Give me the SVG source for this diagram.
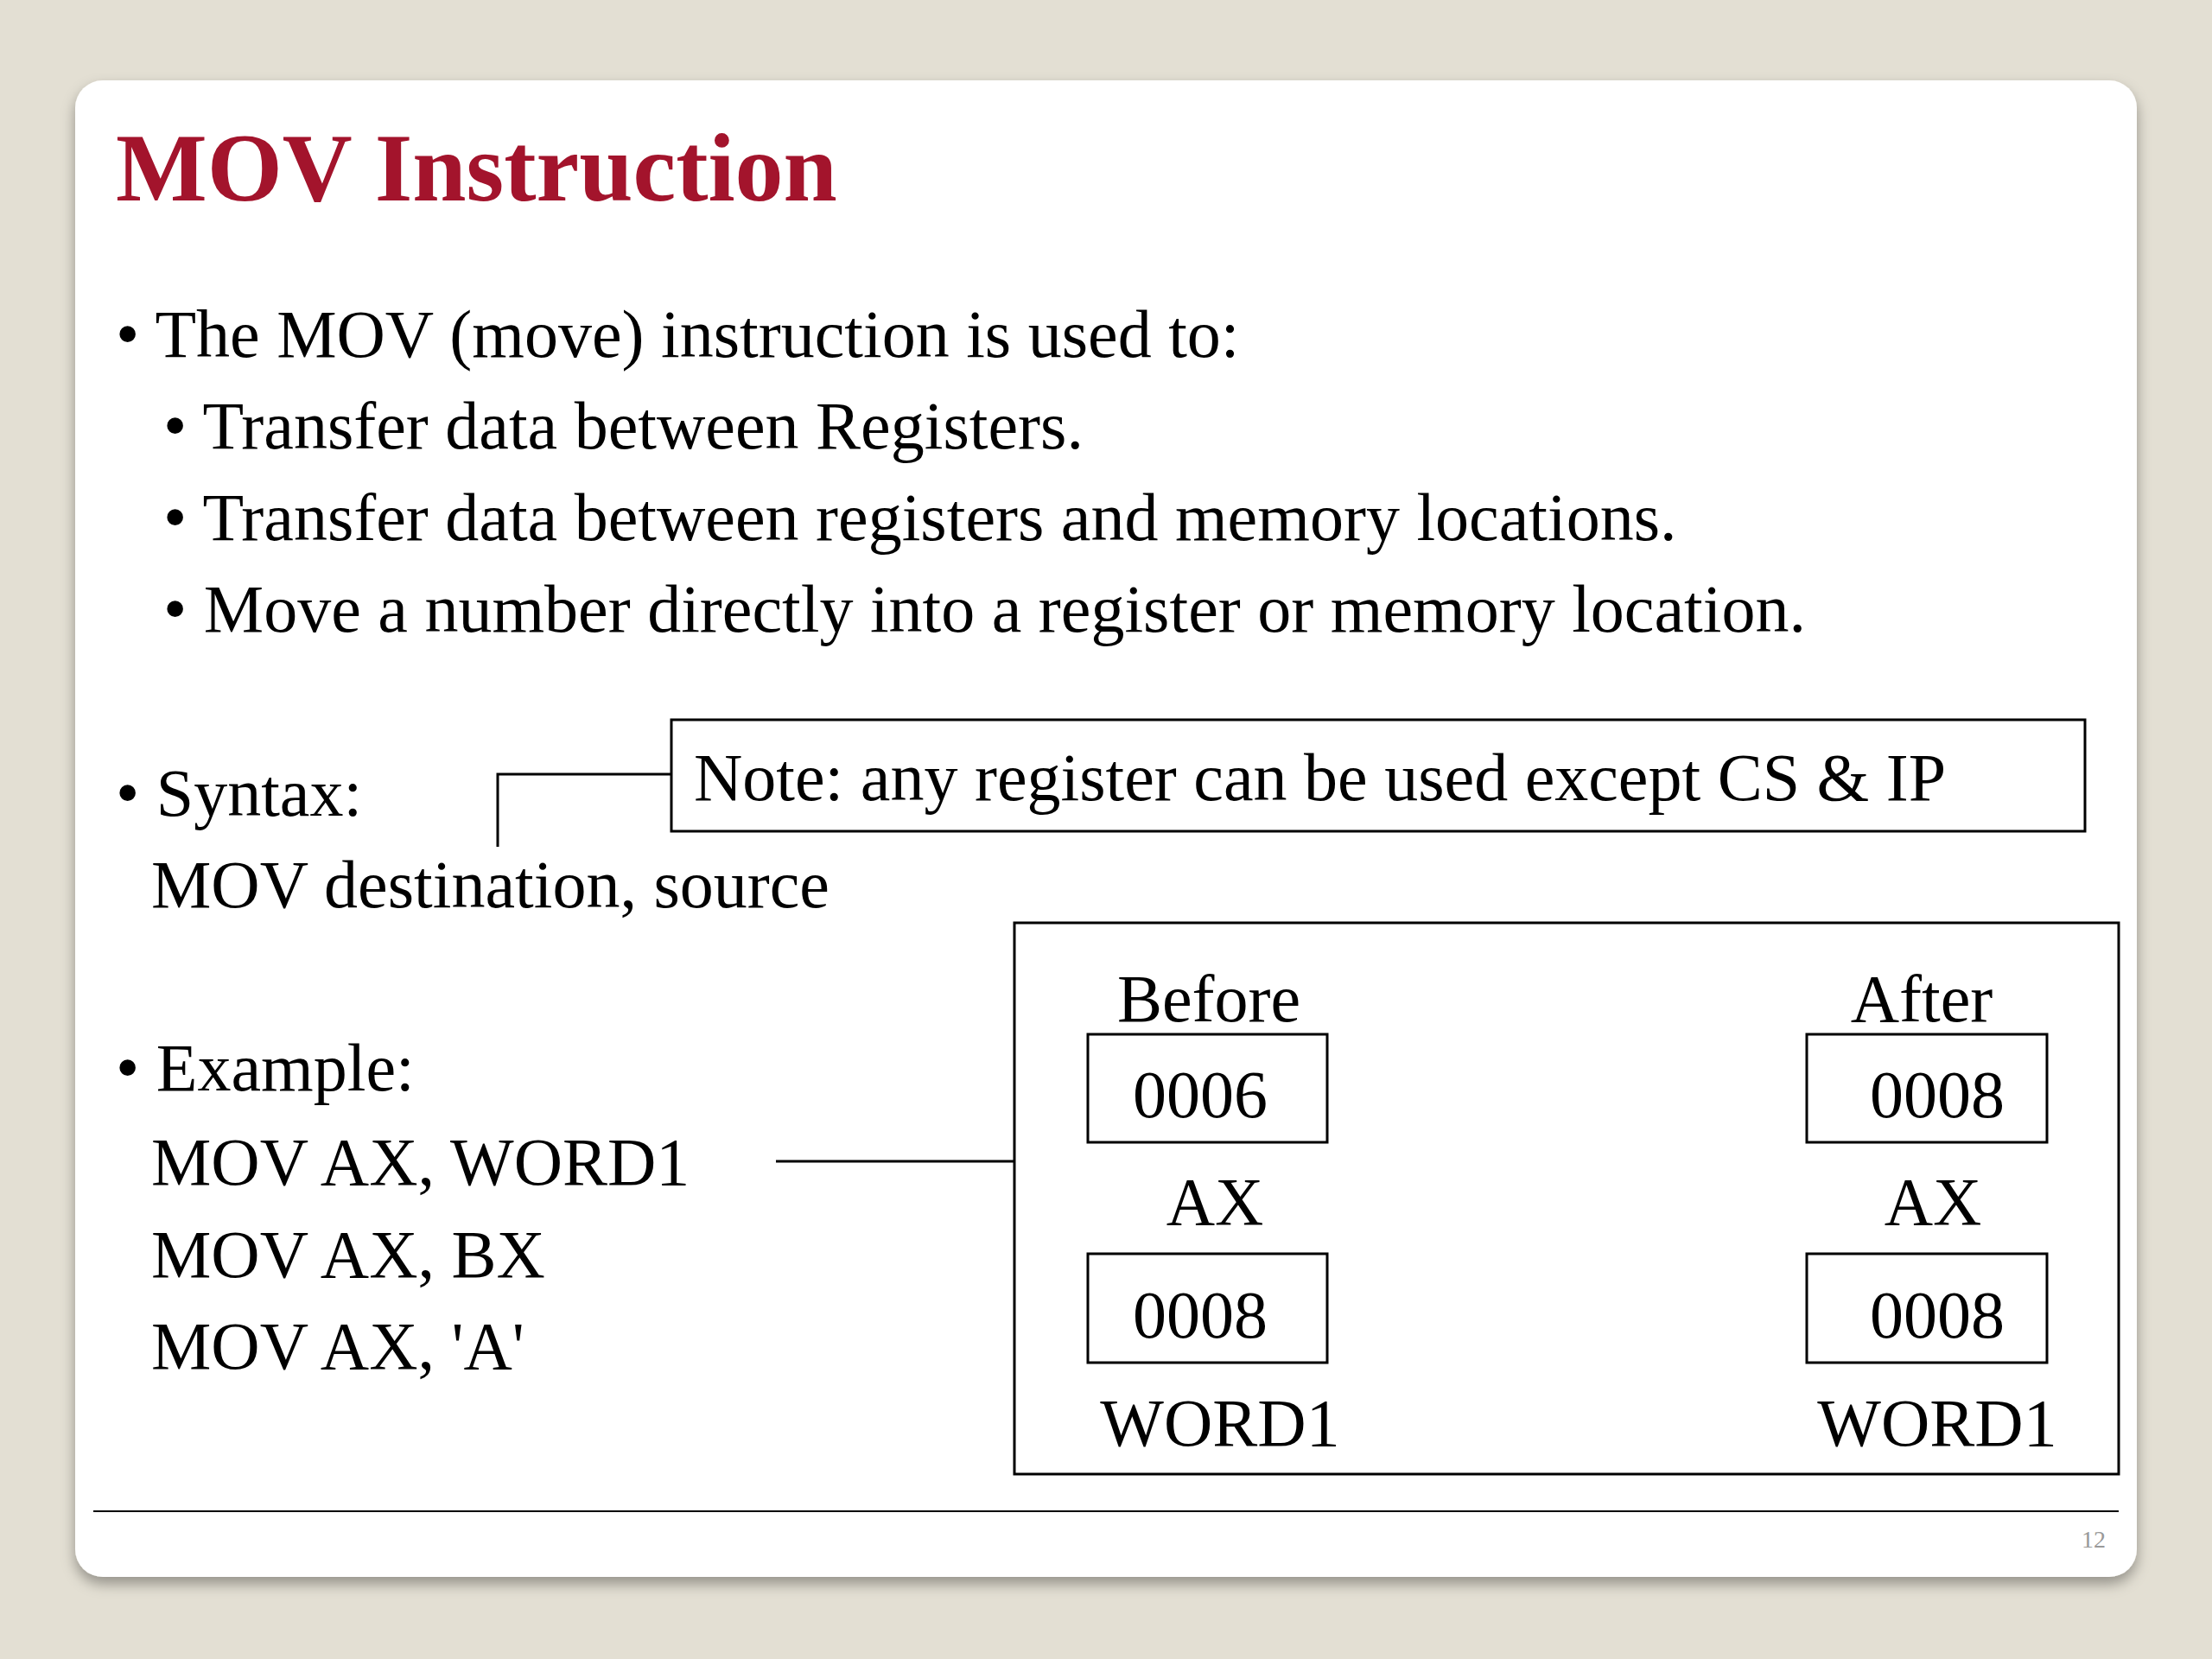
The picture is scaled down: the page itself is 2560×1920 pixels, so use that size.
<svg xmlns="http://www.w3.org/2000/svg" width="2560" height="1920" viewBox="0 0 2560 1920">
<defs>
<filter id="sh" x="-5%" y="-5%" width="110%" height="115%"><feDropShadow dx="0" dy="8" stdDeviation="8" flood-color="#000" flood-opacity="0.35"/></filter>
<style>
text{font-family:"Liberation Serif",serif;fill:#000;font-size:78px}
.c{text-anchor:middle}
.b{fill:none;stroke:#000;stroke-width:3}
</style>
</defs>
<rect width="2560" height="1920" fill="#e3dfd3"/>
<rect x="87" y="93" width="2386" height="1732" rx="32" fill="#fff" filter="url(#sh)"/>
<text x="134" y="232" style="font-size:112px;font-weight:bold;fill:#a3142c">MOV Instruction</text>
<text x="134" y="413">• The MOV (move) instruction is used to:</text>
<text x="189" y="519">• Transfer data between Registers.</text>
<text x="189" y="625">• Transfer data between registers and memory locations.</text>
<text x="189" y="731">• Move a number directly into a register or memory location.</text>
<text x="134" y="944">• Syntax:</text>
<text x="175" y="1050">MOV destination, source</text>
<text x="134" y="1262">• Example:</text>
<text x="175" y="1371">MOV AX, WORD1</text>
<text x="175" y="1478">MOV AX, BX</text>
<text x="175" y="1584">MOV AX, 'A'</text>
<g id="connectors">
<polyline class="b" points="576,980 576,896 777,896"/>
<line class="b" x1="898" y1="1344" x2="1174" y2="1344"/>
</g>
<g id="note"><rect class="b" x="777" y="833" width="1636" height="129"/>
<text x="803" y="926">Note: any register can be used except CS &amp; IP</text></g>
<g id="example">
<rect class="b" x="1174" y="1068" width="1278" height="638"/>
<text class="c" x="1399" y="1182">Before</text>
<text class="c" x="2224" y="1182">After</text>
<rect class="b" x="1259" y="1197" width="277" height="125"/>
<rect class="b" x="2091" y="1197" width="278" height="125"/>
<text class="c" x="1389" y="1293">0006</text>
<text class="c" x="2242" y="1293">0008</text>
<text class="c" x="1406" y="1417">AX</text>
<text class="c" x="2237" y="1417">AX</text>
<rect class="b" x="1259" y="1451" width="277" height="126"/>
<rect class="b" x="2091" y="1451" width="278" height="126"/>
<text class="c" x="1389" y="1548">0008</text>
<text class="c" x="2242" y="1548">0008</text>
<text class="c" x="1412" y="1673">WORD1</text>
<text class="c" x="2242" y="1673">WORD1</text>
</g>
<line x1="108" y1="1749" x2="2452" y2="1749" stroke="#000" stroke-width="2"/>
<text x="2423" y="1791" class="c" style="font-size:28px;fill:#999">12</text>
</svg>
